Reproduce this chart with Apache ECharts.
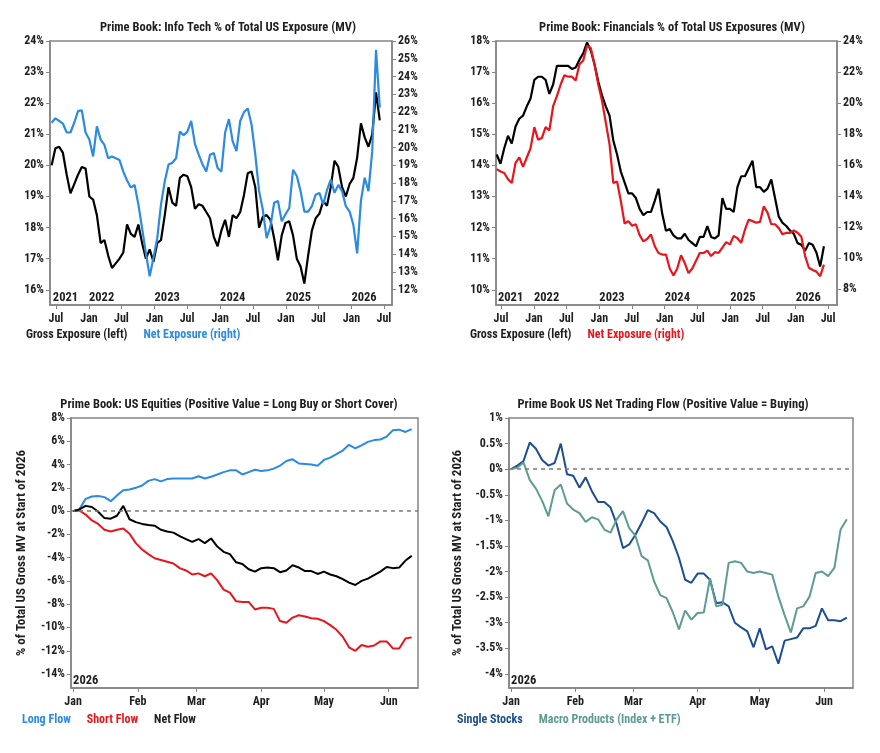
<!DOCTYPE html>
<html>
<head>
<meta charset="utf-8">
<title>Prime Book exposures and flows</title>
<script src="https://cdn.jsdelivr.net/npm/echarts@6/dist/echarts.min.js"></script>
<style>
html, body { margin: 0; padding: 0; background: #fff; }
#main { width: 880px; height: 753px; }
</style>
</head>
<body>
<div id="main"></div>
<script>
// top row: one reading every 3 weeks starting 7 Jun 2021
const exposureStart = '2021-06-07';
const exposureStepDays = 21;

const techGross = [
    20.0, 20.55, 20.6, 20.4, 19.7, 19.1, 19.4, 19.7, 19.95, 19.9,
    19.0, 18.9, 18.4, 17.5, 17.6, 17.1, 16.7, 16.85, 17.0, 17.2,
    18.1, 17.8, 17.7, 18.1, 17.5, 17.0, 17.3, 16.9, 17.5, 17.6,
    18.4, 19.3, 18.8, 18.7, 19.6, 19.7, 19.65, 19.3, 18.6, 18.75,
    18.7, 18.5, 18.3, 17.7, 17.4, 17.9,
    18.25, 17.7, 18.4, 18.3, 18.5, 19.05, 19.75, 19.8, 19.3, 18.0,
    18.35, 18.4, 18.25, 17.65, 16.95, 17.75, 18.15, 18.2, 17.75, 17.0,
    16.75, 16.2, 17.1, 17.9, 18.3, 18.45, 18.85, 18.7, 19.3, 20.15,
    19.95, 19.3, 19.0, 19.4, 19.6, 20.25, 21.35, 20.9, 20.6, 21.0,
    22.35, 21.45
];
const techNet = [
    21.4, 21.65, 21.5, 21.35, 20.85, 20.85, 21.4, 22.05, 22.1, 20.85,
    20.45, 19.5, 21.2, 20.45, 20.15, 19.4, 19.5, 19.4, 19.3, 18.65,
    18.15, 17.75, 17.9, 16.8, 15.45, 14.05, 12.75, 13.8, 14.9, 16.8,
    18.1, 19.05, 19.15, 19.4, 20.9, 20.7, 20.9, 21.5, 20.2, 19.6,
    19.05, 18.65, 19.6, 19.7, 18.85, 18.65,
    20.85, 21.6, 20.35, 19.8, 21.5, 22.0, 22.2, 21.3, 19.6, 17.55,
    16.5, 14.9, 15.55, 16.9, 17.0, 15.85, 16.25, 16.6, 18.75, 18.4,
    17.55, 16.4, 16.4, 16.7, 17.35, 17.45, 16.8, 17.6, 18.2, 17.45,
    17.9, 17.55, 16.7, 16.4, 15.65, 14.05, 17.0, 18.3, 17.55, 19.8,
    25.5, 22.25
];
const finGross = [
    14.35, 14.05, 14.55, 14.95, 14.7, 15.25, 15.5, 15.6, 15.9, 16.15,
    16.75, 16.85, 16.85, 16.75, 16.3, 16.6, 17.2, 17.2, 17.2, 17.2,
    17.1, 17.15, 17.4, 17.6, 17.95, 17.7, 17.25, 16.7, 16.25, 15.9,
    15.6, 14.8, 14.35, 13.8, 13.45, 13.1, 13.1, 12.95, 12.6, 12.4,
    12.5, 12.5, 12.85, 13.25, 12.45, 11.9,
    11.95, 11.75, 11.65, 11.65, 11.8, 11.6, 11.5, 11.4, 11.7, 11.7,
    12.05, 11.7, 11.65, 11.75, 12.95, 12.6, 12.6, 12.5, 13.3, 13.65,
    13.65, 13.9, 14.15, 13.3, 13.3, 13.15, 13.25, 13.55, 12.95, 12.35,
    12.15, 12.05, 11.9, 11.8, 11.5, 11.45, 11.25, 11.5, 11.45, 11.2,
    10.75, 11.4
];
const finNet = [
    15.75, 15.6, 15.5, 15.1, 14.85, 16.15, 16.5, 15.9, 16.5, 17.1,
    18.45, 17.65, 17.75, 18.45, 18.25, 19.8, 20.45, 21.2, 21.8, 21.7,
    21.7, 21.45, 22.5, 22.75, 23.7, 23.55, 22.5, 21.2, 20.15, 18.75,
    17.35, 14.85, 14.95, 13.7, 12.25, 12.4, 12.1, 12.2, 11.5, 11.1,
    11.25, 11.55, 10.8, 10.35, 10.25, 10.25,
    9.35, 8.9, 9.35, 10.2, 9.7, 9.05, 9.35, 9.85, 10.35, 10.35,
    10.5, 10.15, 10.4, 10.35, 10.7, 11.05, 10.9, 11.45, 11.3, 11.0,
    11.85, 12.5, 12.4, 12.3, 12.35, 13.35, 12.95, 12.2, 12.2, 11.95,
    11.55, 11.65, 11.65, 11.8, 11.65, 11.4, 10.15, 9.4, 9.25, 9.15,
    8.85, 9.6
];

// bottom row: one reading every 3 days starting 1 Jan 2026
const flowStart = '2026-01-01';
const flowStepDays = 3;

const longFlow = [
    0, 0.15, 1.05, 1.25, 1.3, 1.2, 0.85, 1.35, 1.8, 1.85,
    2.0, 2.2, 2.6, 2.75, 2.55, 2.75, 2.8, 2.8, 2.8, 2.8,
    3.0, 2.8, 2.95, 3.15, 3.35, 3.5, 3.5, 3.15, 3.35, 3.55,
    3.45, 3.5, 3.65, 3.9, 4.3, 4.45, 4.1, 4.05, 4.0, 3.9,
    4.4, 4.6, 4.9, 5.2, 5.7, 5.4, 5.65, 5.95, 6.1, 6.15,
    6.4, 6.95, 7.0, 6.8, 7.05
];
const shortFlow = [
    0, 0.05, -0.3, -0.8, -1.1, -1.6, -1.75, -1.6, -1.5, -1.95,
    -2.75, -3.3, -3.7, -4.05, -4.2, -4.35, -4.5, -4.9, -5.1, -5.45,
    -5.35, -5.6, -5.35, -5.95, -6.75, -7.0, -7.75, -7.8, -7.8, -8.45,
    -8.3, -8.3, -8.4, -9.45, -9.6, -9.15, -8.95, -9.05, -9.2, -9.25,
    -9.45, -9.8, -10.2, -10.8, -11.7, -12.0, -11.5, -11.65, -11.55, -11.2,
    -11.2, -11.8, -11.8, -10.95, -10.85
];
const netFlow = [
    0, 0.15, 0.45, 0.35, -0.05, -0.6, -0.65, -0.4, 0.45, -0.7,
    -0.95, -1.1, -1.2, -1.25, -1.6, -1.75, -1.85, -2.15, -2.4, -2.65,
    -2.4, -2.75, -2.35, -3.05, -3.5, -3.7, -4.4, -4.55, -5.0, -5.2,
    -4.9, -4.85, -4.9, -5.25, -5.1, -4.65, -4.85, -5.15, -5.15, -5.4,
    -5.2, -5.45, -5.6, -5.85, -6.15, -6.35, -6.0, -5.8, -5.5, -5.2,
    -4.8, -4.9, -4.85, -4.25, -3.85
];
const singleStocks = [
    0, 0.07, 0.16, 0.52, 0.4, 0.18, 0.07, 0.12, 0.5, -0.1,
    -0.13, -0.36, -0.16, -0.43, -0.64, -0.64, -0.75, -1.08, -1.54, -1.47,
    -1.28, -1.05, -0.8, -0.86, -1.02, -1.13, -1.4, -1.73, -2.16, -2.22,
    -2.04, -2.04, -2.16, -2.62, -2.6, -2.68, -3.0, -3.09, -3.17, -3.48,
    -3.11, -3.52, -3.46, -3.8, -3.35, -3.32, -3.29, -3.11, -3.11, -3.06,
    -2.72, -2.95, -2.95, -2.97, -2.9
];
const macroProducts = [
    0, 0.03, 0.13, -0.21, -0.38, -0.62, -0.92, -0.41, -0.3, -0.67,
    -0.79, -0.86, -1.03, -0.94, -0.98, -1.18, -1.24, -0.98, -0.82, -1.15,
    -1.3, -1.7, -1.78, -2.19, -2.46, -2.52, -2.79, -3.13, -2.76, -2.94,
    -2.81, -2.8, -2.13, -2.68, -2.65, -1.83, -1.8, -1.83, -2.0, -2.03,
    -2.0, -2.03, -2.06, -2.49, -2.85, -3.19, -2.72, -2.68, -2.49, -2.03,
    -2.0, -2.09, -1.93, -1.18, -0.98
];

// tick labels
const halfYearTicks = ['2021-07-01', '2022-01-01', '2022-07-01', '2023-01-01', '2023-07-01',
    '2024-01-01', '2024-07-01', '2025-01-01', '2025-07-01', '2026-01-01', '2026-07-01'];
const yearMarks = ['2021-06-14', '2022-01-01', '2023-01-01', '2024-01-01', '2025-01-01', '2026-01-01'];
const monthTicks = ['2026-01-01', '2026-02-01', '2026-03-01', '2026-04-01', '2026-05-01', '2026-06-01'];
const flowYearMarks = ['2026-01-01'];
const techLeftTicks = [16, 17, 18, 19, 20, 21, 22, 23, 24];
const techRightTicks = [12, 13, 14, 15, 16, 17, 18, 19, 20, 21, 22, 23, 24, 25, 26];
const finLeftTicks = [10, 11, 12, 13, 14, 15, 16, 17, 18];
const finRightTicks = [8, 10, 12, 14, 16, 18, 20, 22, 24];
const equityTicks = [-14, -12, -10, -8, -6, -4, -2, 0, 2, 4, 6, 8];
const tradingTicks = [-4, -3.5, -3, -2.5, -2, -1.5, -1, -0.5, 0, 0.5, 1];

const FONT = "'Liberation Sans Narrow','Roboto Condensed','Arial Narrow',Roboto,sans-serif";
const INK = '#1f1f1f';
const FRAME = '#858585';
const BLUE = '#2b8ae2';
const RED = '#e8161c';
const NAVY = '#1d4e8f';
const TEAL = '#5f9b95';
const DAY = 86400000;
const MONTHS = ['Jan','Feb','Mar','Apr','May','Jun','Jul','Aug','Sep','Oct','Nov','Dec'];

function ts(d){
    return Date.parse(d + 'T00:00:00Z');
}

function toSeries(start, stepDays, values){
    let t0 = ts(start);
    return values.map((v, i) => [t0 + i * stepDays * DAY, v]);
}

function monthName(v){
    return MONTHS[new Date(v).getUTCMonth()];
}

function textStyle(extra){
    return Object.assign({color: INK, fontFamily: FONT, fontWeight: 'bold', fontSize: 12}, extra || {});
}

// dates run on plain value axes (ms timestamps) so the labels can sit on chosen days
function dateAxis(grid, min, max, ticks){
    let values = ticks.map(ts);
    return {
        type: 'value', gridIndex: grid, position: 'bottom',
        min: ts(min), max: ts(max),
        axisLine: {show: true, onZero: false, lineStyle: {color: FRAME, width: 1.5}},
        axisTick: {show: true, customValues: values, length: 4, lineStyle: {color: FRAME}},
        axisLabel: textStyle({customValues: values, formatter: monthName, margin: 8, hideOverlap: false}),
        splitLine: {show: false}
    };
}

function yearAxis(grid, min, max, marks){
    let values = marks.map(ts);
    return {
        type: 'value', gridIndex: grid, position: 'bottom',
        min: ts(min), max: ts(max),
        axisLine: {show: false, onZero: false}, axisTick: {show: false},
        axisLabel: textStyle({customValues: values, inside: true, margin: 1, align: 'left', fontSize: 12.5,
            formatter: v => String(new Date(v).getUTCFullYear()), hideOverlap: false}),
        splitLine: {show: false}
    };
}

function valueAxis(grid, side, min, max, ticks, extra){
    return Object.assign({
        type: 'value', gridIndex: grid, position: side, min: min, max: max,
        axisLine: {show: true, onZero: false, lineStyle: {color: FRAME, width: 1.5}},
        axisTick: {show: true, customValues: ticks, length: 4, lineStyle: {color: FRAME}},
        axisLabel: textStyle({customValues: ticks, formatter: v => v + '%', margin: 6}),
        splitLine: {show: false}
    }, extra || {});
}

function line(name, x, y, data, color, width){
    return {
        name: name, type: 'line', xAxisIndex: x, yAxisIndex: y, data: data,
        showSymbol: false, symbol: 'none',
        lineStyle: {color: color, width: width}, itemStyle: {color: color}
    };
}

function zeroLine(){
    return {
        silent: true, symbol: 'none', label: {show: false},
        lineStyle: {type: [4, 4], color: '#7a7a7a', width: 1.5},
        data: [{yAxis: 0}]
    };
}

function legendAt(left, top, items){
    return {
        left: left, top: top, padding: 0, itemWidth: 0, itemHeight: 0, itemGap: 10,
        selectedMode: false,
        textStyle: textStyle(),
        data: items.map(([name, color]) => ({name: name, textStyle: {color: color}}))
    };
}

function titleAt(text, x, y){
    return {text: text, left: x, top: y, padding: 0, textAlign: 'center',
        textStyle: textStyle({fontSize: 12.5})};
}

const yName = '% of Total US Gross MV at Start of 2026';

let myChart = echarts.init(document.getElementById('main'));
let option = {
    animation: false,
    backgroundColor: '#fff',
    title: [
        titleAt('Prime Book: Info Tech % of Total US Exposure (MV)', 228, 21),
        titleAt('Prime Book: Financials % of Total US Exposures (MV)', 672, 21),
        titleAt('Prime Book: US Equities (Positive Value = Long Buy or Short Cover)', 229, 398),
        titleAt('Prime Book US Net Trading Flow (Positive Value = Buying)', 663, 398)
    ],
    legend: [
        legendAt(20, 329, [['Gross Exposure (left)', INK], ['Net Exposure (right)', BLUE]]),
        legendAt(464, 329, [['Gross Exposure (left)', INK], ['Net Exposure (right)', RED]]),
        legendAt(16, 714, [['Long Flow', BLUE], ['Short Flow', RED], ['Net Flow', INK]]),
        legendAt(451, 714, [['Single Stocks', NAVY], ['Macro Products (Index + ETF)', TEAL]])
    ],
    grid: [
        {left: 50, top: 41, width: 342, height: 264, show: true, borderColor: FRAME, borderWidth: 1.5},
        {left: 496, top: 41, width: 341, height: 264, show: true, borderColor: FRAME, borderWidth: 1.5},
        {left: 71, top: 418, width: 347, height: 270, show: true, borderColor: FRAME, borderWidth: 1.5},
        {left: 509, top: 418, width: 344, height: 270, show: true, borderColor: FRAME, borderWidth: 1.5}
    ],
    xAxis: [
        dateAxis(0, '2021-05-29', '2026-08-15', halfYearTicks),
        yearAxis(0, '2021-05-29', '2026-08-15', yearMarks),
        dateAxis(1, '2021-06-03', '2026-08-20', halfYearTicks),
        yearAxis(1, '2021-06-03', '2026-08-20', yearMarks),
        dateAxis(2, '2025-12-31', '2026-06-15', monthTicks),
        yearAxis(2, '2025-12-31', '2026-06-15', flowYearMarks),
        dateAxis(3, '2025-12-31', '2026-06-15', monthTicks),
        yearAxis(3, '2025-12-31', '2026-06-15', flowYearMarks)
    ],
    yAxis: [
        valueAxis(0, 'left', 15.51, 24, techLeftTicks),
        valueAxis(0, 'right', 11.14, 26, techRightTicks),
        valueAxis(1, 'left', 9.51, 18, finLeftTicks),
        valueAxis(1, 'right', 7.0, 24, finRightTicks),
        valueAxis(2, 'left', -15.2, 8, equityTicks, {
            name: yName, nameLocation: 'middle', nameGap: 43, nameRotate: 90,
            nameTextStyle: textStyle({fontSize: 13, padding: [0, 0, 0, 0]})
        }),
        valueAxis(3, 'left', -4.275, 1, tradingTicks, {
            name: yName, nameLocation: 'middle', nameGap: 45, nameRotate: 90,
            nameTextStyle: textStyle({fontSize: 13})
        })
    ],
    series: [
        line('Gross Exposure (left)', 0, 0, toSeries(exposureStart, exposureStepDays, techGross), '#000', 2.2),
        line('Net Exposure (right)', 0, 1, toSeries(exposureStart, exposureStepDays, techNet), BLUE, 2.2),
        line('Gross Exposure (left)', 2, 2, toSeries(exposureStart, exposureStepDays, finGross), '#000', 2.2),
        line('Net Exposure (right)', 2, 3, toSeries(exposureStart, exposureStepDays, finNet), RED, 2.2),
        Object.assign(line('Long Flow', 4, 4, toSeries(flowStart, flowStepDays, longFlow), BLUE, 2), {markLine: zeroLine()}),
        line('Short Flow', 4, 4, toSeries(flowStart, flowStepDays, shortFlow), RED, 2),
        line('Net Flow', 4, 4, toSeries(flowStart, flowStepDays, netFlow), '#000', 2),
        Object.assign(line('Single Stocks', 6, 5, toSeries(flowStart, flowStepDays, singleStocks), NAVY, 2), {markLine: zeroLine()}),
        line('Macro Products (Index + ETF)', 6, 5, toSeries(flowStart, flowStepDays, macroProducts), TEAL, 2)
    ]
};
myChart.setOption(option);
</script>
</body>
</html>
